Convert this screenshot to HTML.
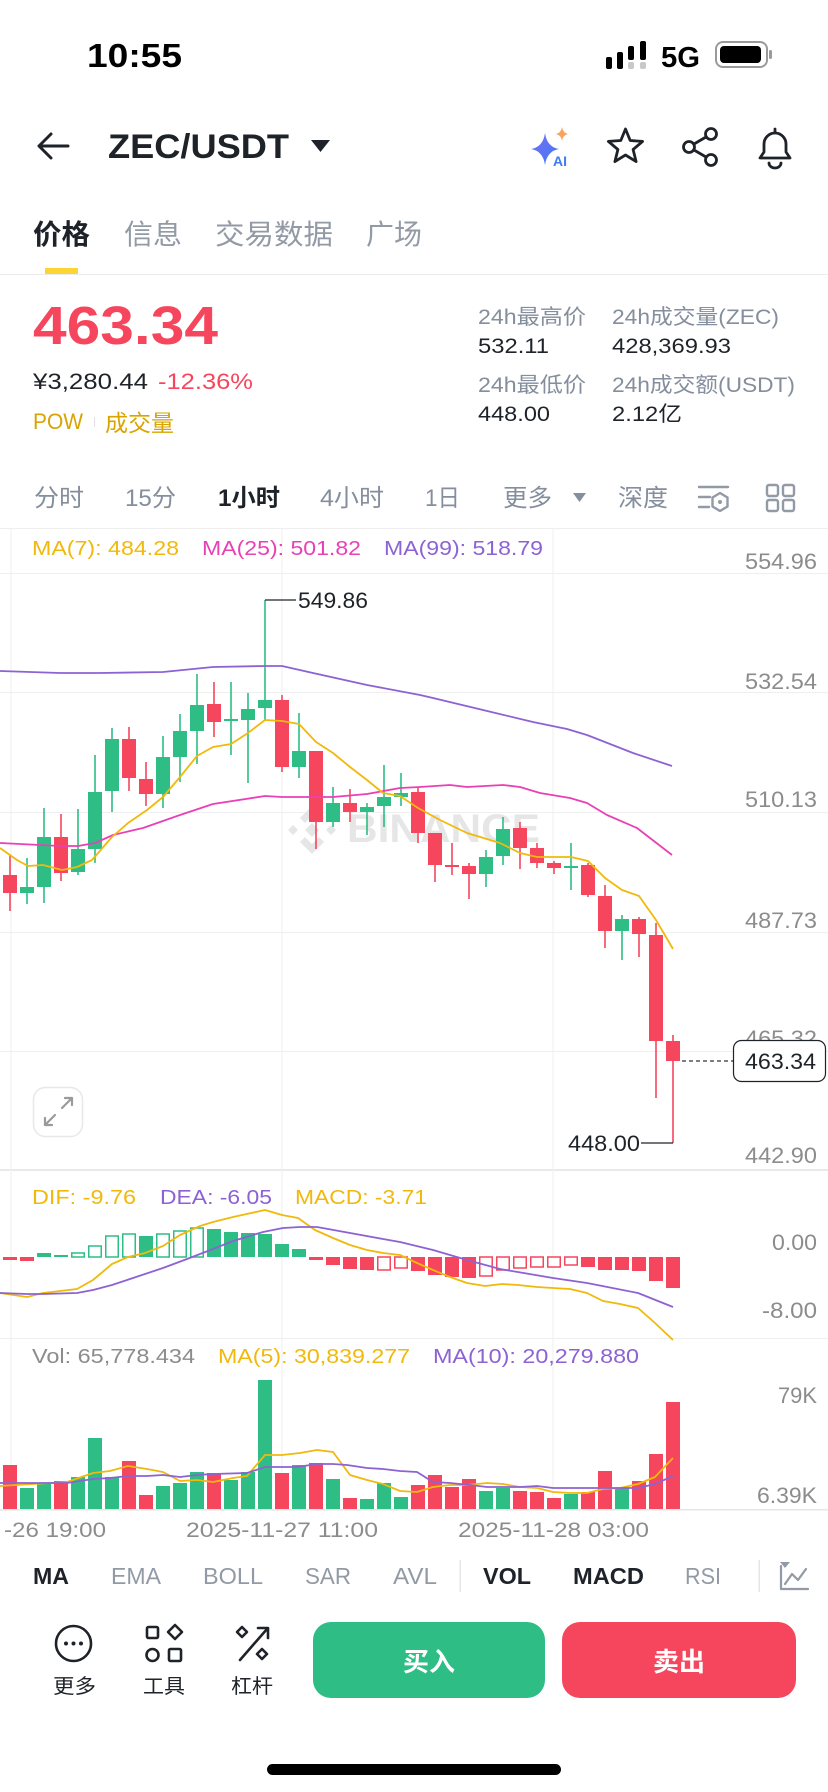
<!DOCTYPE html>
<html><head><meta charset="utf-8">
<style>
html,body{margin:0;padding:0;background:#fff;}
svg{display:block;}
text{font-family:"Liberation Sans","Noto Sans CJK SC",sans-serif;}
</style></head><body>
<svg width="828" height="1792" viewBox="0 0 828 1792" xmlns="http://www.w3.org/2000/svg">
<defs>
<linearGradient id="ai" x1="0" y1="0" x2="1" y2="1"><stop offset="0" stop-color="#7a6cf5"/><stop offset="1" stop-color="#3d7bf5"/></linearGradient>
</defs>
<rect width="828" height="1792" fill="#fff"/>

<!-- status bar -->
<text x="87" y="67" font-size="33" font-weight="bold" fill="#000" textLength="95" lengthAdjust="spacingAndGlyphs">10:55</text>
<rect x="606" y="57" width="6" height="12" rx="2" fill="#000"/>
<rect x="617" y="52" width="6" height="17" rx="2" fill="#000"/>
<rect x="628" y="46" width="6" height="14" rx="2" fill="#000"/>
<rect x="628" y="62" width="6" height="7" rx="2" fill="#c8c8c8"/>
<rect x="640" y="41" width="6" height="19" rx="2" fill="#000"/>
<rect x="640" y="62" width="6" height="7" rx="2" fill="#c8c8c8"/>
<text x="661" y="67" font-size="29" font-weight="bold" fill="#000" textLength="39" lengthAdjust="spacingAndGlyphs">5G</text>
<rect x="716" y="42" width="51" height="25" rx="7" fill="none" stroke="#9a9a9a" stroke-width="2"/>
<rect x="720" y="46" width="41" height="17" rx="4" fill="#000"/>
<rect x="769" y="50" width="3" height="9" rx="1.5" fill="#9a9a9a"/>

<!-- nav -->
<path d="M68 146 H39 M51 134 L39 146 L51 158" stroke="#1e2329" stroke-width="3" fill="none" stroke-linecap="round" stroke-linejoin="round"/>
<text x="108" y="158" font-size="34" font-weight="bold" fill="#1e2329" textLength="181" lengthAdjust="spacingAndGlyphs">ZEC/USDT</text>
<path d="M311 140 H330 L320.5 152 Z" fill="#1e2329"/>
<path d="M545 133 Q547 147 559 149 Q547 151 545 165 Q543 151 531 149 Q543 147 545 133 Z" fill="url(#ai)"/>
<path d="M562 127 Q563 133 568 134 Q563 135 562 141 Q561 135 556 134 Q561 133 562 127Z" fill="#f7a35c"/>
<text x="553" y="166" font-size="14" font-weight="bold" fill="#3d7bf5">AI</text>
<path d="M625.5 129 L630.2 140.5 L642.6 141.4 L633.1 149.5 L636.1 161.6 L625.5 155 L614.9 161.6 L617.9 149.5 L608.4 141.4 L620.8 140.5 Z" fill="none" stroke="#1e2329" stroke-width="2.8" stroke-linejoin="round"/>
<g fill="none" stroke="#1e2329" stroke-width="2.8">
<circle cx="711" cy="134" r="5.5"/><circle cx="689" cy="147" r="5.5"/><circle cx="711" cy="160" r="5.5"/>
<path d="M694 144 L706 137 M694 150 L706 157"/>
<path d="M760 158 H790 L786 152 V144 A11 11 0 0 0 764 144 V152 Z" stroke-linejoin="round"/>
<path d="M769 163 A6 5 0 0 0 781 163" stroke-linecap="round"/>
<path d="M775 129 V132" stroke-linecap="round"/>
</g>

<!-- tabs -->
<text x="33" y="244" font-size="28" font-weight="bold" fill="#1e2329" textLength="57" lengthAdjust="spacingAndGlyphs">价格</text>
<text x="124" y="244" font-size="28" fill="#929aa5" textLength="58" lengthAdjust="spacingAndGlyphs">信息</text>
<text x="215" y="244" font-size="28" fill="#929aa5" textLength="118" lengthAdjust="spacingAndGlyphs">交易数据</text>
<text x="366" y="244" font-size="28" fill="#929aa5" textLength="56" lengthAdjust="spacingAndGlyphs">广场</text>
<rect x="45" y="268" width="33" height="6" fill="#fcd535"/>
<rect x="0" y="274" width="828" height="1" fill="#eaecef"/>

<!-- price block -->
<text x="33" y="344" font-size="54" font-weight="bold" fill="#f6465d" textLength="185" lengthAdjust="spacingAndGlyphs">463.34</text>
<text x="33" y="389" font-size="22" fill="#1e2329" textLength="115" lengthAdjust="spacingAndGlyphs">¥3,280.44</text>
<text x="158" y="389" font-size="22" fill="#f6465d" textLength="95" lengthAdjust="spacingAndGlyphs">-12.36%</text>
<text x="33" y="429" font-size="22" fill="#d9a300" textLength="50" lengthAdjust="spacingAndGlyphs">POW</text>
<rect x="94" y="417" width="1" height="10" fill="#e0e0e0"/>
<text x="105" y="431" font-size="23" fill="#d9a300" textLength="69" lengthAdjust="spacingAndGlyphs">成交量</text>

<text x="478" y="324" font-size="21" fill="#848e9c" textLength="108" lengthAdjust="spacingAndGlyphs">24h最高价</text>
<text x="612" y="324" font-size="21" fill="#848e9c" textLength="167" lengthAdjust="spacingAndGlyphs">24h成交量(ZEC)</text>
<text x="478" y="353" font-size="21" fill="#1e2329" textLength="71" lengthAdjust="spacingAndGlyphs">532.11</text>
<text x="612" y="353" font-size="21" fill="#1e2329" textLength="119" lengthAdjust="spacingAndGlyphs">428,369.93</text>
<text x="478" y="392" font-size="21" fill="#848e9c" textLength="108" lengthAdjust="spacingAndGlyphs">24h最低价</text>
<text x="612" y="392" font-size="21" fill="#848e9c" textLength="183" lengthAdjust="spacingAndGlyphs">24h成交额(USDT)</text>
<text x="478" y="421" font-size="21" fill="#1e2329" textLength="72" lengthAdjust="spacingAndGlyphs">448.00</text>
<text x="612" y="421" font-size="21" fill="#1e2329" textLength="70" lengthAdjust="spacingAndGlyphs">2.12亿</text>

<!-- timeframe row -->
<g font-size="24" fill="#848e9c">
<text x="34" y="506" textLength="50" lengthAdjust="spacingAndGlyphs">分时</text>
<text x="125" y="506" textLength="51" lengthAdjust="spacingAndGlyphs">15分</text>
<text x="218" y="506" textLength="62" lengthAdjust="spacingAndGlyphs" font-weight="bold" fill="#1e2329">1小时</text>
<text x="320" y="506" textLength="64" lengthAdjust="spacingAndGlyphs">4小时</text>
<text x="425" y="506" textLength="35" lengthAdjust="spacingAndGlyphs">1日</text>
<text x="503" y="506" textLength="49" lengthAdjust="spacingAndGlyphs">更多</text>
<text x="618" y="506" textLength="50" lengthAdjust="spacingAndGlyphs">深度</text>
</g>
<path d="M573 493 H586 L579.5 502 Z" fill="#848e9c"/>
<g fill="none" stroke="#929aa5" stroke-width="2.4" stroke-linecap="round">
<path d="M699 487 H728 M699 497 H710 M699 507 H709"/>
<path d="M720 493 L727.5 497.5 V506.5 L720 511 L712.5 506.5 V497.5 Z" stroke-linejoin="round"/>
<rect x="767" y="485" width="11" height="11" rx="2"/><rect x="783" y="485" width="11" height="11" rx="2"/>
<rect x="767" y="500" width="11" height="11" rx="2"/><rect x="783" y="500" width="11" height="11" rx="2"/>
</g>
<circle cx="720" cy="502" r="2" fill="#929aa5"/>

<!-- grid -->
<g fill="#efefef">
<rect x="0" y="528" width="828" height="1"/>
<rect x="0" y="573" width="828" height="1"/>
<rect x="0" y="692" width="828" height="1"/>
<rect x="0" y="812" width="828" height="1"/>
<rect x="0" y="932" width="828" height="1"/>
<rect x="0" y="1051" width="828" height="1"/>
<rect x="0" y="1169" width="828" height="2" fill="#e9e9e9"/>
<rect x="0" y="1338" width="828" height="1"/>
<rect x="0" y="1509" width="828" height="1.5" fill="#e6e6e6"/>
<rect x="10.5" y="528" width="1" height="981"/>
<rect x="281.5" y="528" width="1" height="981"/>
<rect x="552.5" y="528" width="1" height="981"/>
</g>

<!-- watermark -->
<g fill="#e6e6e6">
<path d="M312 823 L319 830 L312 837 L305 830 Z"/>
<path d="M293 825 L298 830 L293 835 L288 830 Z"/>
<path d="M331 825 L336 830 L331 835 L326 830 Z"/>
<path d="M300 818 L312 806 L324 818 L319 823 L312 816 L305 823 Z"/>
<path d="M300 842 L312 854 L324 842 L319 837 L312 844 L305 837 Z"/>
<text x="347" y="842" font-size="40" font-weight="bold" textLength="193" lengthAdjust="spacingAndGlyphs">BINANCE</text>
</g>

<!-- MA legend -->
<text x="32" y="555" font-size="20" fill="#f0b90b" textLength="147" lengthAdjust="spacingAndGlyphs">MA(7): 484.28</text>
<text x="202" y="555" font-size="20" fill="#e841b5" textLength="159" lengthAdjust="spacingAndGlyphs">MA(25): 501.82</text>
<text x="384" y="555" font-size="20" fill="#8d62d3" textLength="159" lengthAdjust="spacingAndGlyphs">MA(99): 518.79</text>

<!-- price axis labels -->
<g font-size="22" fill="#8c8c8c">
<text x="745" y="569" textLength="72" lengthAdjust="spacingAndGlyphs">554.96</text>
<text x="745" y="689" textLength="72" lengthAdjust="spacingAndGlyphs">532.54</text>
<text x="745" y="807" textLength="72" lengthAdjust="spacingAndGlyphs">510.13</text>
<text x="745" y="928" textLength="72" lengthAdjust="spacingAndGlyphs">487.73</text>
<text x="745" y="1046" textLength="72" lengthAdjust="spacingAndGlyphs">465.32</text>
<text x="745" y="1163" textLength="72" lengthAdjust="spacingAndGlyphs">442.90</text>
</g>

<!-- candles -->
<path stroke="#f6465d" stroke-width="1.6" fill="none" d="M-7 852V885 M10 855V911 M61 814V881 M129 727V791 M146 762V806 M214 682V737 M282 695V772 M316 751V849 M350 789V822 M418 788V843 M435 833V882 M452 843V875 M469 863V899 M520 822V869 M537 843V868 M554 861V874 M588 863V897 M605 885V948 M639 917V957 M656 923V1098 M673 1035V1143"/>
<path stroke="#2ebd85" stroke-width="1.6" fill="none" d="M27 858V904 M44 808V903 M78 809V875 M95 755V863 M112 728V812 M163 736V808 M180 714V782 M197 674V764 M231 682V755 M248 693V783 M265 600V720 M299 713V778 M333 787V827 M367 803V835 M384 765V827 M401 773V806 M486 850V887 M503 817V865 M571 843V890 M622 915V960"/>
<g fill="#f6465d">
<rect x="-14" y="858" width="14" height="18"/>
<rect x="3" y="875" width="14" height="18"/>
<rect x="54" y="837" width="14" height="36"/>
<rect x="122" y="739" width="14" height="39"/>
<rect x="139" y="779" width="14" height="15"/>
<rect x="207" y="704" width="14" height="18"/>
<rect x="275" y="700" width="14" height="67"/>
<rect x="309" y="751" width="14" height="71"/>
<rect x="343" y="803" width="14" height="9"/>
<rect x="411" y="792" width="14" height="41"/>
<rect x="428" y="833" width="14" height="32"/>
<rect x="445" y="865" width="14" height="2"/>
<rect x="462" y="866" width="14" height="8"/>
<rect x="513" y="828" width="14" height="20"/>
<rect x="530" y="848" width="14" height="15"/>
<rect x="547" y="863" width="14" height="5"/>
<rect x="581" y="865" width="14" height="30"/>
<rect x="598" y="896" width="14" height="35"/>
<rect x="632" y="919" width="14" height="15"/>
<rect x="649" y="935" width="14" height="106"/>
<rect x="666" y="1041" width="14" height="20"/>
</g>
<g fill="#2ebd85">
<rect x="20" y="887" width="14" height="6"/>
<rect x="37" y="837" width="14" height="50"/>
<rect x="71" y="849" width="14" height="23"/>
<rect x="88" y="792" width="14" height="57"/>
<rect x="105" y="739" width="14" height="52"/>
<rect x="156" y="757" width="14" height="37"/>
<rect x="173" y="731" width="14" height="26"/>
<rect x="190" y="705" width="14" height="26"/>
<rect x="224" y="719" width="14" height="2"/>
<rect x="241" y="709" width="14" height="11"/>
<rect x="258" y="700" width="14" height="8"/>
<rect x="292" y="751" width="14" height="16"/>
<rect x="326" y="803" width="14" height="19"/>
<rect x="360" y="807" width="14" height="5"/>
<rect x="377" y="797" width="14" height="9"/>
<rect x="394" y="793" width="14" height="4"/>
<rect x="479" y="857" width="14" height="17"/>
<rect x="496" y="829" width="14" height="27"/>
<rect x="564" y="866" width="14" height="2"/>
<rect x="615" y="919" width="14" height="12"/>
</g>

<!-- MA lines -->
<g fill="none" stroke-width="1.8" stroke-linejoin="round">
<polyline stroke="#8d62d3" points="0,671 30,672 60,673 100,673 163,672 213,667 265,666 282,666 313,673 367,685 420,695 433,698 483,710 533,722 567,729 587,735 633,753 672,766"/>
<polyline stroke="#e841b5" points="0,843 60,846 78,846 95,843 113,835 143,828 180,815 213,804 265,796 282,797 333,797 367,794 400,788 420,787 450,785 467,787 503,785 520,787 540,793 570,798 587,803 607,815 637,828 672,855"/>
<polyline stroke="#f0b90b" points="0,848 17,860 28,866 43,865 62,870 77,867 92,860 112,837 128,823 147,810 163,797 180,777 197,756 213,747 231,744 248,733 265,720 282,721 299,724 316,742 333,753 350,767 367,780 383,793 400,796 418,808 440,820 467,833 500,843 520,853 537,857 553,857 571,857 588,861 605,878 622,890 639,896 656,920 673,949"/>
</g>

<!-- annotations -->
<path d="M265 600 H296" stroke="#1e2329" stroke-width="1.2"/>
<text x="298" y="608" font-size="22" fill="#1e2329" textLength="70" lengthAdjust="spacingAndGlyphs">549.86</text>
<path d="M641 1143 H673" stroke="#1e2329" stroke-width="1.2"/>
<text x="568" y="1151" font-size="22" fill="#1e2329" textLength="72" lengthAdjust="spacingAndGlyphs">448.00</text>
<path d="M682 1061 H733" stroke="#333" stroke-width="1.2" stroke-dasharray="4 3"/>
<rect x="733.5" y="1040.5" width="92" height="41" rx="8" fill="#fff" stroke="#1e2329" stroke-width="1.2"/>
<text x="745" y="1069" font-size="22" fill="#1e2329" textLength="71" lengthAdjust="spacingAndGlyphs">463.34</text>

<rect x="33.5" y="1087.5" width="49" height="49" rx="12" fill="#fff" stroke="#e8e8e8" stroke-width="1.5"/>
<path d="M62 1108 L72 1098 M65 1098 H72 V1105 M55 1115 L45 1125 M45 1118 V1125 H52" stroke="#9a9a9a" stroke-width="2.2" fill="none" stroke-linecap="round" stroke-linejoin="round"/>

<!-- MACD -->
<text x="32" y="1204" font-size="20" fill="#f0b90b" textLength="104" lengthAdjust="spacingAndGlyphs">DIF: -9.76</text>
<text x="160" y="1204" font-size="20" fill="#8d62d3" textLength="112" lengthAdjust="spacingAndGlyphs">DEA: -6.05</text>
<text x="295" y="1204" font-size="20" fill="#f0b90b" textLength="132" lengthAdjust="spacingAndGlyphs">MACD: -3.71</text>
<text x="772" y="1250" font-size="22" fill="#8c8c8c" textLength="45" lengthAdjust="spacingAndGlyphs">0.00</text>
<text x="762" y="1318" font-size="22" fill="#8c8c8c" textLength="55" lengthAdjust="spacingAndGlyphs">-8.00</text>

<g fill="#2ebd85">
<rect x="37" y="1253" width="14" height="4"/>
<rect x="54" y="1255" width="14" height="2"/>
<rect x="139" y="1236" width="14" height="21"/>
<rect x="207" y="1229" width="14" height="28"/>
<rect x="224" y="1232" width="14" height="25"/>
<rect x="241" y="1233" width="14" height="24"/>
<rect x="258" y="1234" width="14" height="23"/>
<rect x="275" y="1244" width="14" height="13"/>
<rect x="292" y="1249" width="14" height="8"/>
</g>
<g fill="#fff" stroke="#2ebd85" stroke-width="1.5">
<rect x="71.75" y="1253" width="12.5" height="4"/>
<rect x="88.75" y="1246" width="12.5" height="11"/>
<rect x="105.75" y="1236" width="12.5" height="21"/>
<rect x="122.75" y="1234" width="12.5" height="23"/>
<rect x="156.75" y="1234" width="12.5" height="23"/>
<rect x="173.75" y="1231" width="12.5" height="26"/>
<rect x="190.75" y="1228" width="12.5" height="29"/>
</g>
<g fill="#f6465d">
<rect x="3" y="1257" width="14" height="3"/>
<rect x="20" y="1257" width="14" height="4"/>
<rect x="309" y="1257" width="14" height="3"/>
<rect x="326" y="1257" width="14" height="8"/>
<rect x="343" y="1257" width="14" height="12"/>
<rect x="360" y="1257" width="14" height="13"/>
<rect x="411" y="1257" width="14" height="14"/>
<rect x="428" y="1257" width="14" height="18"/>
<rect x="445" y="1257" width="14" height="20"/>
<rect x="462" y="1257" width="14" height="21"/>
<rect x="581" y="1257" width="14" height="10"/>
<rect x="598" y="1257" width="14" height="13"/>
<rect x="615" y="1257" width="14" height="13"/>
<rect x="632" y="1257" width="14" height="14"/>
<rect x="649" y="1257" width="14" height="24"/>
<rect x="666" y="1257" width="14" height="31"/>
</g>
<g fill="#fff" stroke="#f6465d" stroke-width="1.5">
<rect x="377.75" y="1257" width="12.5" height="13"/>
<rect x="394.75" y="1257" width="12.5" height="11"/>
<rect x="479.75" y="1257" width="12.5" height="19"/>
<rect x="496.75" y="1257" width="12.5" height="13"/>
<rect x="513.75" y="1257" width="12.5" height="11"/>
<rect x="530.75" y="1257" width="12.5" height="10"/>
<rect x="547.75" y="1257" width="12.5" height="10"/>
<rect x="564.75" y="1257" width="12.5" height="8"/>
</g>
<g fill="none" stroke-width="1.8" stroke-linejoin="round">
<polyline stroke="#f0b90b" points="0,1293 27,1297 43,1293 77,1289 93,1280 112,1264 128,1257 145,1253 163,1246 180,1235 200,1226 213,1222 233,1217 265,1210 282,1215 298,1218 315,1230 333,1238 350,1245 367,1250 383,1253 400,1255 417,1263 433,1270 450,1277 467,1283 485,1286 502,1284 518,1285 537,1287 553,1288 570,1289 587,1293 603,1301 620,1304 638,1308 655,1323 673,1340"/>
<polyline stroke="#8d62d3" points="0,1293 27,1294 43,1294 77,1293 93,1290 112,1285 133,1278 163,1268 187,1259 213,1249 233,1241 263,1232 283,1228 300,1227 317,1227 350,1233 383,1239 400,1242 433,1250 467,1260 500,1269 553,1278 587,1283 638,1293 673,1307"/>
</g>

<!-- Volume -->
<text x="32" y="1363" font-size="20" fill="#8c8c8c" textLength="163" lengthAdjust="spacingAndGlyphs">Vol: 65,778.434</text>
<text x="218" y="1363" font-size="20" fill="#f0b90b" textLength="192" lengthAdjust="spacingAndGlyphs">MA(5): 30,839.277</text>
<text x="433" y="1363" font-size="20" fill="#8d62d3" textLength="206" lengthAdjust="spacingAndGlyphs">MA(10): 20,279.880</text>
<text x="778" y="1403" font-size="22" fill="#8c8c8c" textLength="39" lengthAdjust="spacingAndGlyphs">79K</text>
<text x="757" y="1503" font-size="22" fill="#8c8c8c" textLength="60" lengthAdjust="spacingAndGlyphs">6.39K</text>

<g fill="#f6465d">
<rect x="-14" y="1495" width="14" height="14"/>
<rect x="3" y="1465" width="14" height="44"/>
<rect x="54" y="1481" width="14" height="28"/>
<rect x="122" y="1461" width="14" height="48"/>
<rect x="139" y="1495" width="14" height="14"/>
<rect x="207" y="1473" width="14" height="36"/>
<rect x="275" y="1473" width="14" height="36"/>
<rect x="309" y="1463" width="14" height="46"/>
<rect x="343" y="1498" width="14" height="11"/>
<rect x="411" y="1485" width="14" height="24"/>
<rect x="428" y="1475" width="14" height="34"/>
<rect x="445" y="1487" width="14" height="22"/>
<rect x="462" y="1479" width="14" height="30"/>
<rect x="513" y="1491" width="14" height="18"/>
<rect x="530" y="1492" width="14" height="17"/>
<rect x="547" y="1498" width="14" height="11"/>
<rect x="581" y="1492" width="14" height="17"/>
<rect x="598" y="1471" width="14" height="38"/>
<rect x="632" y="1481" width="14" height="28"/>
<rect x="649" y="1454" width="14" height="55"/>
<rect x="666" y="1402" width="14" height="107"/>
</g>
<g fill="#2ebd85">
<rect x="20" y="1488" width="14" height="21"/>
<rect x="37" y="1483" width="14" height="26"/>
<rect x="71" y="1477" width="14" height="32"/>
<rect x="88" y="1438" width="14" height="71"/>
<rect x="105" y="1477" width="14" height="32"/>
<rect x="156" y="1486" width="14" height="23"/>
<rect x="173" y="1483" width="14" height="26"/>
<rect x="190" y="1472" width="14" height="37"/>
<rect x="224" y="1480" width="14" height="29"/>
<rect x="241" y="1472" width="14" height="37"/>
<rect x="258" y="1380" width="14" height="129"/>
<rect x="292" y="1465" width="14" height="44"/>
<rect x="326" y="1479" width="14" height="30"/>
<rect x="360" y="1499" width="14" height="10"/>
<rect x="377" y="1483" width="14" height="26"/>
<rect x="394" y="1497" width="14" height="12"/>
<rect x="479" y="1491" width="14" height="18"/>
<rect x="496" y="1488" width="14" height="21"/>
<rect x="564" y="1494" width="14" height="15"/>
<rect x="615" y="1488" width="14" height="21"/>
</g>
<g fill="none" stroke-width="1.8" stroke-linejoin="round">
<polyline stroke="#f0b90b" points="0,1486 33,1484 50,1483 67,1482 93,1473 110,1471 128,1466 147,1469 163,1472 180,1481 197,1480 213,1482 233,1478 247,1476 265,1455 282,1455 300,1453 317,1450 333,1452 350,1475 367,1480 383,1484 400,1491 417,1492 433,1487 450,1485 467,1485 487,1483 503,1484 520,1487 537,1488 553,1492 570,1493 587,1493 603,1489 620,1488 638,1484 655,1477 673,1458"/>
<polyline stroke="#8d62d3" points="0,1483 67,1483 93,1479 110,1478 128,1476 147,1476 163,1475 180,1477 197,1475 213,1474 247,1473 265,1467 297,1467 317,1464 333,1464 347,1465 367,1468 383,1469 400,1471 417,1472 433,1482 450,1483 470,1485 487,1487 503,1487 520,1487 537,1486 553,1488 638,1488 655,1484 673,1476"/>
</g>

<!-- time axis -->
<g font-size="21" fill="#8c8c8c">
<text x="4" y="1537" textLength="102" lengthAdjust="spacingAndGlyphs">-26 19:00</text>
<text x="186" y="1537" textLength="192" lengthAdjust="spacingAndGlyphs">2025-11-27 11:00</text>
<text x="458" y="1537" textLength="191" lengthAdjust="spacingAndGlyphs">2025-11-28 03:00</text>
</g>

<!-- indicator row -->
<g font-size="23" fill="#929aa5">
<text x="33" y="1584" textLength="36" lengthAdjust="spacingAndGlyphs" font-weight="bold" fill="#1e2329">MA</text>
<text x="111" y="1584" textLength="50" lengthAdjust="spacingAndGlyphs">EMA</text>
<text x="203" y="1584" textLength="60" lengthAdjust="spacingAndGlyphs">BOLL</text>
<text x="305" y="1584" textLength="46" lengthAdjust="spacingAndGlyphs">SAR</text>
<text x="393" y="1584" textLength="44" lengthAdjust="spacingAndGlyphs">AVL</text>
<text x="483" y="1584" textLength="48" lengthAdjust="spacingAndGlyphs" font-weight="bold" fill="#1e2329">VOL</text>
<text x="573" y="1584" textLength="71" lengthAdjust="spacingAndGlyphs" font-weight="bold" fill="#1e2329">MACD</text>
<text x="685" y="1584" textLength="36" lengthAdjust="spacingAndGlyphs">RSI</text>
</g>
<rect x="459.5" y="1560" width="1.5" height="32" fill="#e6e6e6"/>
<rect x="758.5" y="1560" width="1.5" height="32" fill="#e6e6e6"/>
<g fill="none" stroke="#929aa5" stroke-width="2.2" stroke-linecap="round" stroke-linejoin="round">
<path d="M781 1566 V1589 H808"/>
<path d="M785 1584 L792 1574 L798 1580 L806 1569"/>
</g>
<path d="M780 1562 H790 L785 1568 Z" fill="#929aa5"/>

<!-- bottom action bar -->
<g fill="none" stroke="#1e2329" stroke-width="2.6" stroke-linejoin="round">
<circle cx="73.5" cy="1643.5" r="17.5"/>
<rect x="147" y="1627" width="11" height="11" rx="1.5"/>
<path d="M175 1625 L182 1632 L175 1639 L168 1632 Z"/>
<circle cx="152.5" cy="1655" r="6"/>
<rect x="169" y="1649" width="12" height="12" rx="1.5"/>
<path d="M240 1660 L267 1629 M258 1628 H268 V1638" stroke-linecap="round"/>
<path d="M242 1627 L247 1632 L242 1637 L237 1632 Z"/>
<path d="M262 1649 L267 1654 L262 1659 L257 1654 Z"/>
</g>
<g fill="#1e2329">
<circle cx="66" cy="1643.5" r="2"/><circle cx="73.5" cy="1643.5" r="2"/><circle cx="81" cy="1643.5" r="2"/>
</g>
<g font-size="20" fill="#1e2329">
<text x="53" y="1693" textLength="43" lengthAdjust="spacingAndGlyphs">更多</text>
<text x="143" y="1693" textLength="42" lengthAdjust="spacingAndGlyphs">工具</text>
<text x="231" y="1693" textLength="42" lengthAdjust="spacingAndGlyphs">杠杆</text>
</g>
<rect x="313" y="1622" width="232" height="76" rx="18" fill="#2ebd85"/>
<text x="429" y="1671" text-anchor="middle" font-size="26" font-weight="bold" fill="#fff">买入</text>
<rect x="562" y="1622" width="234" height="76" rx="18" fill="#f6465d"/>
<text x="679" y="1671" text-anchor="middle" font-size="26" font-weight="bold" fill="#fff">卖出</text>

<rect x="267" y="1764" width="294" height="11" rx="5.5" fill="#000"/>
</svg>
</body></html>
